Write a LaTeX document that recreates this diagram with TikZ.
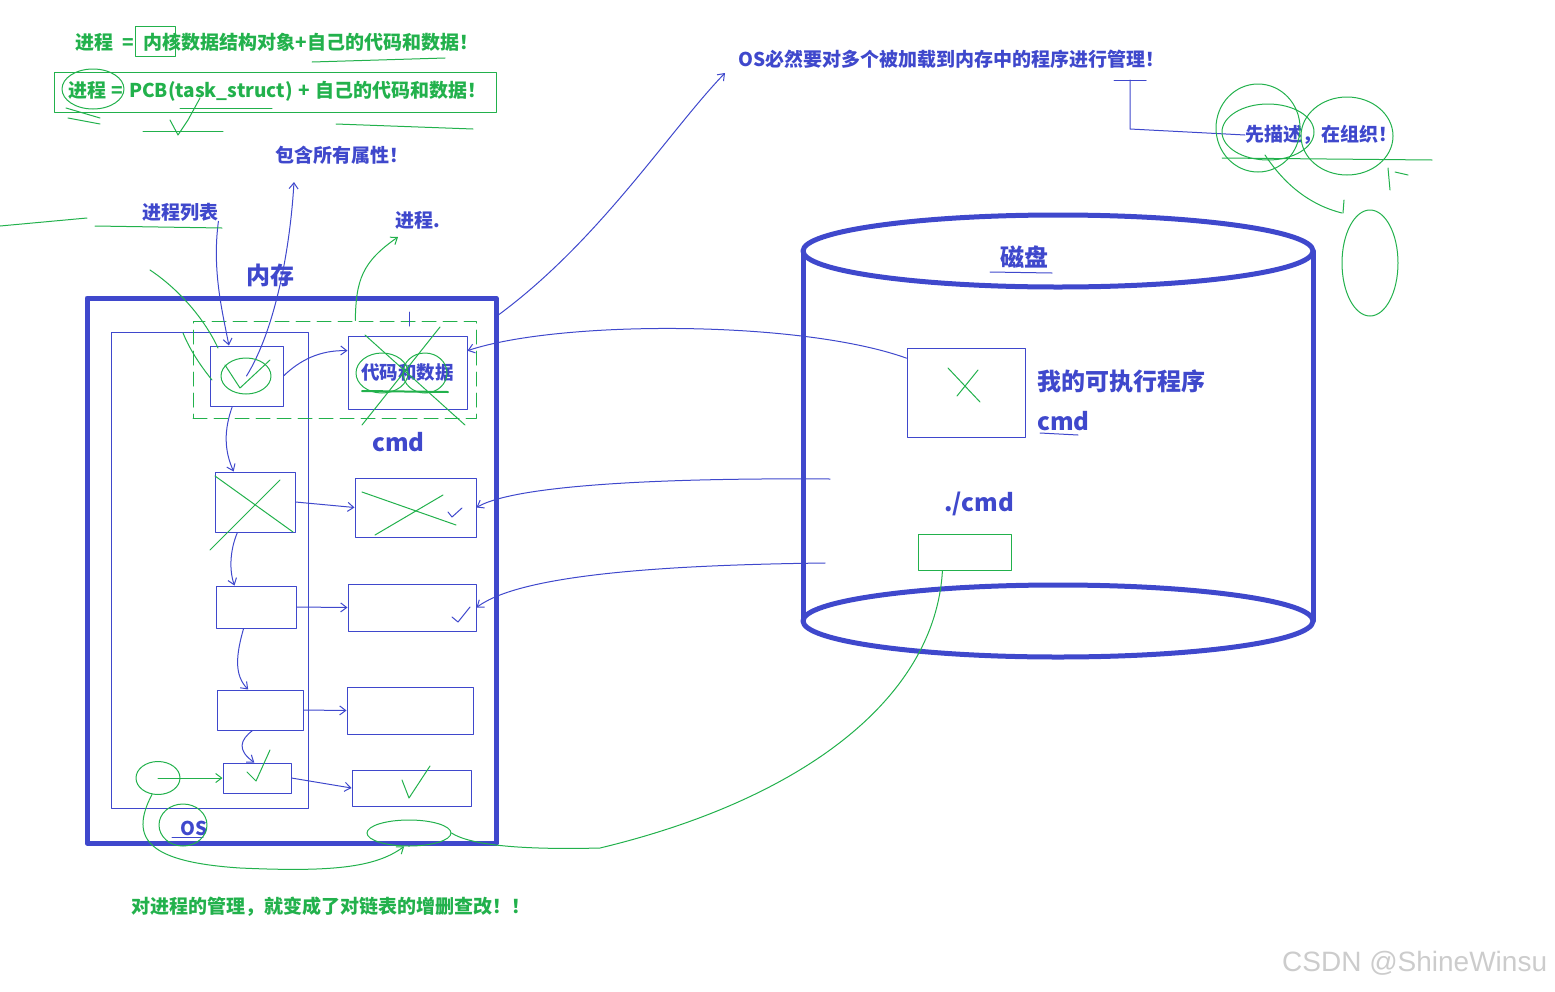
\documentclass[tikz,border=0pt]{standalone}
\usepackage{fontspec}
\setmainfont{Noto Sans CJK SC}
\newfontfamily\wmfont{Liberation Sans}
\usepackage{tikz}
\usetikzlibrary{arrows.meta, positioning, calc, shapes.geometric}
\definecolor{penblue}{RGB}{63,72,204}
\definecolor{pengreen}{RGB}{34,177,76}

\tikzset{
  bline/.style={penblue, line width=1pt},
  gline/.style={pengreen, line width=1pt},
  heavy/.style={penblue, line width=5pt},
  box/.style={draw=penblue, line width=1pt, inner sep=0pt},
  btext/.style={penblue, font=\bfseries\fontsize{19}{22}\selectfont, inner sep=0pt, anchor=west},
  gtext/.style={pengreen, font=\bfseries\fontsize{19}{22}\selectfont, inner sep=0pt, anchor=west},
  bigtext/.style={btext, font=\bfseries\fontsize{24}{28}\selectfont},
  barb/.style={-{Straight Barb[length=6pt,width=9pt]}},
}

\begin{document}
\begin{tikzpicture}[x=1pt, y=-1pt, line cap=round, line join=round]
    \useasboundingbox (0,0) rectangle (1555,991);

    % Definitions at the top
    \node[gtext] (def1) at (75,42) {进程\enspace{}=\enspace{}内核数据结构对象+自己的代码和数据！};
    \node[gtext] (def2) at (68,91) {进程\hspace{0.3em}=\hspace{0.3em}PCB(task\_struct)\hspace{0.3em}+\hspace{0.3em}自己的代码和数据！};
    \draw[gline] (54,72) rectangle (496,112);
    \draw[gline] (135,26) rectangle (175,56);
    \draw[gline] (312,62) -- (445,58);
    \draw[gline] (93,89) ellipse [x radius=31, y radius=20];
    \draw[gline] (180,108) -- (272,108);
    \draw[gline] (143,131) -- (223,131);
    \draw[gline] (170,120) -- (178,135) -- (188,120) -- (200,98);
    \draw[gline] (336,124) -- (473,129);
    \draw[gline] (66,108) -- (100,118);
    \draw[gline] (68,118) -- (100,124);

    % OS has to manage
    \node[btext] (manage) at (738,59) {OS必然要对多个被加载到内存中的程序进行管理！};
    \node[btext] (desc) at (1245,135) {先描述，在组织！};
    \draw[bline] (1114,80) -- (1146,80);
    \draw[bline] (1130,80) -- (1130,129) -- (desc.west);

    % Scribbles round "describe first"
    \draw[gline] (1258,128) ellipse [x radius=42, y radius=44];
    \draw[gline] (1347,136) ellipse [x radius=46, y radius=39];
    \draw[gline] (1268,132) ellipse [x radius=46, y radius=28];
    \draw[gline] (1222,158) -- (1432,160);
    \draw[gline] (1265,155) .. controls (1285,185) and (1310,205) .. (1342,213);
    \draw[gline] (1344,200) -- (1343,213);
    \draw[gline] (1388,168) -- (1390,190);
    \draw[gline] (1395,172) -- (1408,175);
    \draw[gline] (1370,263) ellipse [x radius=28, y radius=53];

    % Memory
    \node[btext] (attr) at (275,155) {包含所有属性！};
    \node[btext] (plist) at (142,212) {进程列表};
    \node[btext] (proc) at (395,220) {进程.};
    \node[bigtext] (memlabel) at (246,275) {内存};
    \node[box, heavy, minimum width=409, minimum height=545] (memory) at (291.5,570.5) {};
    \node[box, minimum width=197, minimum height=476] (list) at (209.5,570) {};
    \node[draw=pengreen, line width=1pt, dash pattern=on 14pt off 7pt,
          minimum width=283, minimum height=97] (pair) at (334.5,369.5) {};

    % PCBs
    \node[box, minimum width=73, minimum height=60] (pcb1) at (246.5,376) {};
    \node[box, minimum width=80, minimum height=60] (pcb2) at (255,502) {};
    \node[box, minimum width=80, minimum height=42] (pcb3) at (256,607) {};
    \node[box, minimum width=86, minimum height=40] (pcb4) at (260,710) {};
    \node[box, minimum width=68, minimum height=30] (pcb5) at (257,778) {};

    % Code and data
    \node[box, minimum width=119, minimum height=73, penblue,
          font=\bfseries\fontsize{18.5}{22}\selectfont] (data1) at (407.5,372.5) {代码和数据};
    \node[box, minimum width=121, minimum height=59] (data2) at (415.5,507.5) {};
    \node[box, minimum width=128, minimum height=47] (data3) at (412,607.5) {};
    \node[box, minimum width=126, minimum height=47] (data4) at (410,710.5) {};
    \node[box, minimum width=119, minimum height=36] (data5) at (411.5,788) {};
    \node[bigtext] (cmd1) at (372,442) {cmd};
    \node[btext] (oslabel) at (180,828) {OS};
    \draw[bline] (172,837) -- (203,837);

    % Links
    \draw[bline, barb] (pcb1.-115) .. controls (224,430) and (224,450) .. (pcb2.125);
    \draw[bline, barb] (pcb2.-120) .. controls (230,550) and (229,570) .. (pcb3.135);
    \draw[bline, barb] (pcb3.-120) .. controls (236,655) and (234,675) .. (pcb4.120);
    \draw[bline, barb] (pcb4.-110) .. controls (240,740) and (237,750) .. (pcb5.100);
    \draw[bline, barb] (pcb1.east) .. controls (300,360) and (320,350) .. (data1.160);
    \draw[bline, barb] (pcb2.east) -- (data2.west);
    \draw[bline, barb] (pcb3.east) -- (data3.west);
    \draw[bline, barb] (pcb4.east) -- (data4.west);
    \draw[bline, barb] (pcb5.east) -- (data5.west);
    \coordinate (attrtip) at (294,182);
    \draw[bline, barb] (plist.south east) .. controls (212,270) and (222,310) .. (pcb1.120);
    \draw[bline, barb] (pcb1.center) .. controls (275,330) and (290,250) .. (attrtip);
    \draw[bline] (409,312) -- (409,326);
    \coordinate (ostip) at (725,73);
    \draw[bline, barb] (memory.51) .. controls (600,240) and (670,130) .. (ostip);

    % Green marks in memory
    \coordinate (proctip) at (398,237);
    \draw[gline, barb] (pair.67) .. controls (356,280) and (362,262) .. (proctip);
    \draw[gline] (0,226) -- (87,218);
    \draw[gline] (95,226) -- (222,228);
    \draw[gline] (150,270) .. controls (180,290) and (205,320) .. (218,348);
    \draw[gline] (183,333) .. controls (190,350) and (200,365) .. (212,380);
    \draw[gline] (246,376) ellipse [x radius=25, y radius=18];
    \draw[gline] (225,365) -- (240,388) -- (270,360);
    \draw[gline] (365,335) -- (465,425);
    \draw[gline] (440,327) -- (362,425);
    \draw[gline] (382,373) ellipse [x radius=26, y radius=20];
    \draw[gline] (425,373) ellipse [x radius=22, y radius=20];
    \draw[gline, line width=2pt] (362,391) -- (448,392);
    \draw[gline] (215,476) -- (293,532);
    \draw[gline] (280,480) -- (210,550);
    \draw[gline] (362,492) -- (456,525);
    \draw[gline] (375,535) -- (443,495);
    \draw[gline] (247,772) -- (256,781) -- (270,750);
    \draw[gline] (402,780) -- (409,798) -- (430,766);
    \draw[bline] (448,512) -- (452,517) -- (462,508);
    \draw[bline] (452,617) -- (458,622) -- (470,607);
    \draw[gline] (183,825) ellipse [x radius=24, y radius=21];
    \node[gline, draw, ellipse, minimum width=84, minimum height=26] (grab) at (409,833) {};
    \node[gline, draw, ellipse, minimum width=44, minimum height=33] (loop) at (158,778) {};
    \draw[gline, barb] (loop.center) -- (pcb5.west);
    \draw[gline, barb] (loop.250) .. controls (128,840) and (150,862) .. (240,868)
        .. controls (330,872) and (375,868) .. (grab.-110);

    % Disk
    \draw[heavy] (803,251) -- (803,621);
    \draw[heavy] (1313,251) -- (1313,621);
    \draw[heavy] (1058,251) ellipse [x radius=255, y radius=36];
    \draw[heavy] (1058,621) ellipse [x radius=255, y radius=36];
    \node[bigtext] (disklabel) at (1000,257) {磁盘};
    \draw[bline] (990,272) -- (1052,273);
    \node[box, minimum width=118, minimum height=89] (prog) at (966,392.5) {};
    \draw[gline] (948,368) -- (980,402);
    \draw[gline] (978,370) -- (957,396);
    \node[bigtext] (progname) at (1037,381) {我的可执行程序};
    \node[bigtext] (cmd2) at (1037,421) {cmd};
    \draw[bline] (1040,433) -- (1078,435);
    \node[bigtext] (run) at (944,504) {./cmd};
    \node[draw=pengreen, line width=1pt, minimum width=93, minimum height=36] (runbox) at (964.5,552) {};

    % Loading into memory
    \coordinate (d2) at (830,479);
    \coordinate (d3) at (825,563);
    \draw[bline, barb] (prog.150) .. controls (800,320) and (560,320) .. (data1.20);
    \draw[bline, barb] (d2) .. controls (700,478) and (520,482) .. (data2.east);
    \draw[bline, barb] (d3) .. controls (660,565) and (520,575) .. (data3.east);
    \draw[gline] (runbox.-140) .. controls (935,700) and (800,800) .. (600,848)
        .. controls (520,850) and (470,845) .. (grab.east);

    % Conclusion
    \node[gtext] (result) at (131,907) {对进程的管理，就变成了对链表的增删查改！！};
    \node[anchor=west, inner sep=0pt, text=gray!40, font=\wmfont\fontsize{28}{32}\selectfont] (mark) at (1282,963) {CSDN @ShineWinsu};
\end{tikzpicture}
\end{document}
